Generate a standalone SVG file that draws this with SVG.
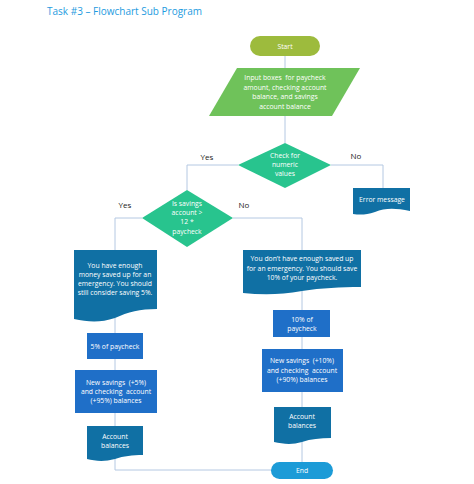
<svg xmlns="http://www.w3.org/2000/svg" width="474" height="484" viewBox="0 0 474 484">
<style>
.t{font-family:"Open Sans","Liberation Sans",sans-serif;font-size:6.8px;fill:#ffffff;text-anchor:middle;white-space:pre}
.lbl{font-family:"Open Sans","Liberation Sans",sans-serif;font-size:8px;fill:#222222;text-anchor:middle}
.c{fill:none;stroke:#b4c8e2;stroke-width:1}
.doc{fill:#1070a4}
.proc{fill:#1f6fc8}
.dia{fill:#28c48e}
</style>
<rect width="474" height="484" fill="#ffffff"/>
<text x="47" y="15" font-family="Open Sans, Liberation Sans, sans-serif" font-size="10" fill="#1e9be0">Task #3 – Flowchart Sub Program</text>
<g id="connectors">
<path class="c" d="M285,56 V143"/>
<path class="c" d="M238,165 H187 V190"/>
<path class="c" d="M331,165 H383 V188"/>
<path class="c" d="M142,218 H115 V250"/>
<path class="c" d="M233,218 H302 V250"/>
<path class="c" d="M115,318 V333"/>
<path class="c" d="M115,359 V370"/>
<path class="c" d="M115,413 V426"/>
<path class="c" d="M115,458 V470 H272"/>
<path class="c" d="M302,291 V310"/>
<path class="c" d="M302,337 V349"/>
<path class="c" d="M302,392 V407"/>
<path class="c" d="M302,440 V462"/>
</g>
<g id="start">
<rect x="250" y="36" width="70" height="20" rx="10" fill="#9dbb3d"/>
<text class="t" x="285" y="49" font-size="7.5">Start</text>
</g>
<g id="input">
<polygon points="237,68 360,68 332,116 209,116" fill="#6fc25a"/>
<text class="t" x="285" y="80">Input boxes  for paycheck</text>
<text class="t" x="285" y="90">amount, checking account</text>
<text class="t" x="285" y="99">balance, and savings</text>
<text class="t" x="285" y="109">account balance</text>
</g>
<g id="check">
<polygon class="dia" points="285,143 331,165 285,188 238,165"/>
<text class="t" x="285" y="158">Check for</text>
<text class="t" x="285" y="167">numeric</text>
<text class="t" x="285" y="176">values</text>
<text class="lbl" x="207" y="160">Yes</text>
<text class="lbl" x="356" y="159">No</text>
</g>
<g id="error">
<path class="doc" d="M353,188 H410 V211 C395,208 385,208 375,212 C366,215 360,215 353,214 Z"/>
<text class="t" x="382" y="202">Error message</text>
</g>
<g id="savings-check">
<polygon class="dia" points="187,190 233,218 187,247 142,218"/>
<text class="t" x="187" y="206">Is savings</text>
<text class="t" x="187" y="215">account &gt;</text>
<text class="t" x="187" y="224">12 *</text>
<text class="t" x="187" y="234">paycheck</text>
<text class="lbl" x="125" y="208">Yes</text>
<text class="lbl" x="244" y="208">No</text>
</g>
<g id="enough">
<path class="doc" d="M74,250 H157 V309 C140,309 128,312 115,318 C100,323 88,322 74,319 Z"/>
<text class="t" x="115" y="268">You have enough</text>
<text class="t" x="115" y="277">money saved up for an</text>
<text class="t" x="115" y="286">emergency. You should</text>
<text class="t" x="115" y="295">still consider saving 5%.</text>
</g>
<g id="five">
<rect class="proc" x="87" y="333" width="56" height="26"/>
<text class="t" x="115" y="348.5">5% of paycheck</text>
</g>
<g id="new5">
<rect class="proc" x="75" y="370" width="82" height="43"/>
<text class="t" x="116" y="385">New savings  (+5%)</text>
<text class="t" x="116" y="394">and checking  account</text>
<text class="t" x="116" y="403">(+95%) balances</text>
</g>
<g id="bal-left">
<path class="doc" d="M87,426 H143 V455 C132,455 124,456 115,459 C104,462 95,461 87,459 Z"/>
<text class="t" x="115" y="439">Account</text>
<text class="t" x="115" y="448">balances</text>
</g>
<g id="not-enough">
<path class="doc" d="M243,250 H361 V287 C340,287 322,288 302,291 C280,295 262,295 243,293 Z"/>
<text class="t" x="302" y="261">You don’t have enough saved up</text>
<text class="t" x="302" y="271">for an emergency. You should save</text>
<text class="t" x="302" y="280">10% of your paycheck.</text>
</g>
<g id="ten">
<rect class="proc" x="273" y="310" width="57" height="27"/>
<text class="t" x="302" y="322">10% of</text>
<text class="t" x="302" y="331">paycheck</text>
</g>
<g id="new10">
<rect class="proc" x="262" y="349" width="81" height="43"/>
<text class="t" x="302" y="363">New savings  (+10%)</text>
<text class="t" x="302" y="373">and checking  account</text>
<text class="t" x="302" y="382">(+90%) balances</text>
</g>
<g id="bal-right">
<path class="doc" d="M274,407 H331 V438 C320,438 311,439 302,442 C292,445 283,444 274,442 Z"/>
<text class="t" x="302" y="419">Account</text>
<text class="t" x="302" y="428">balances</text>
</g>
<g id="end">
<rect x="271" y="462" width="62" height="17" rx="8.5" fill="#1c9bd7"/>
<text class="t" x="302" y="473" font-size="7.5">End</text>
</g>
</svg>
